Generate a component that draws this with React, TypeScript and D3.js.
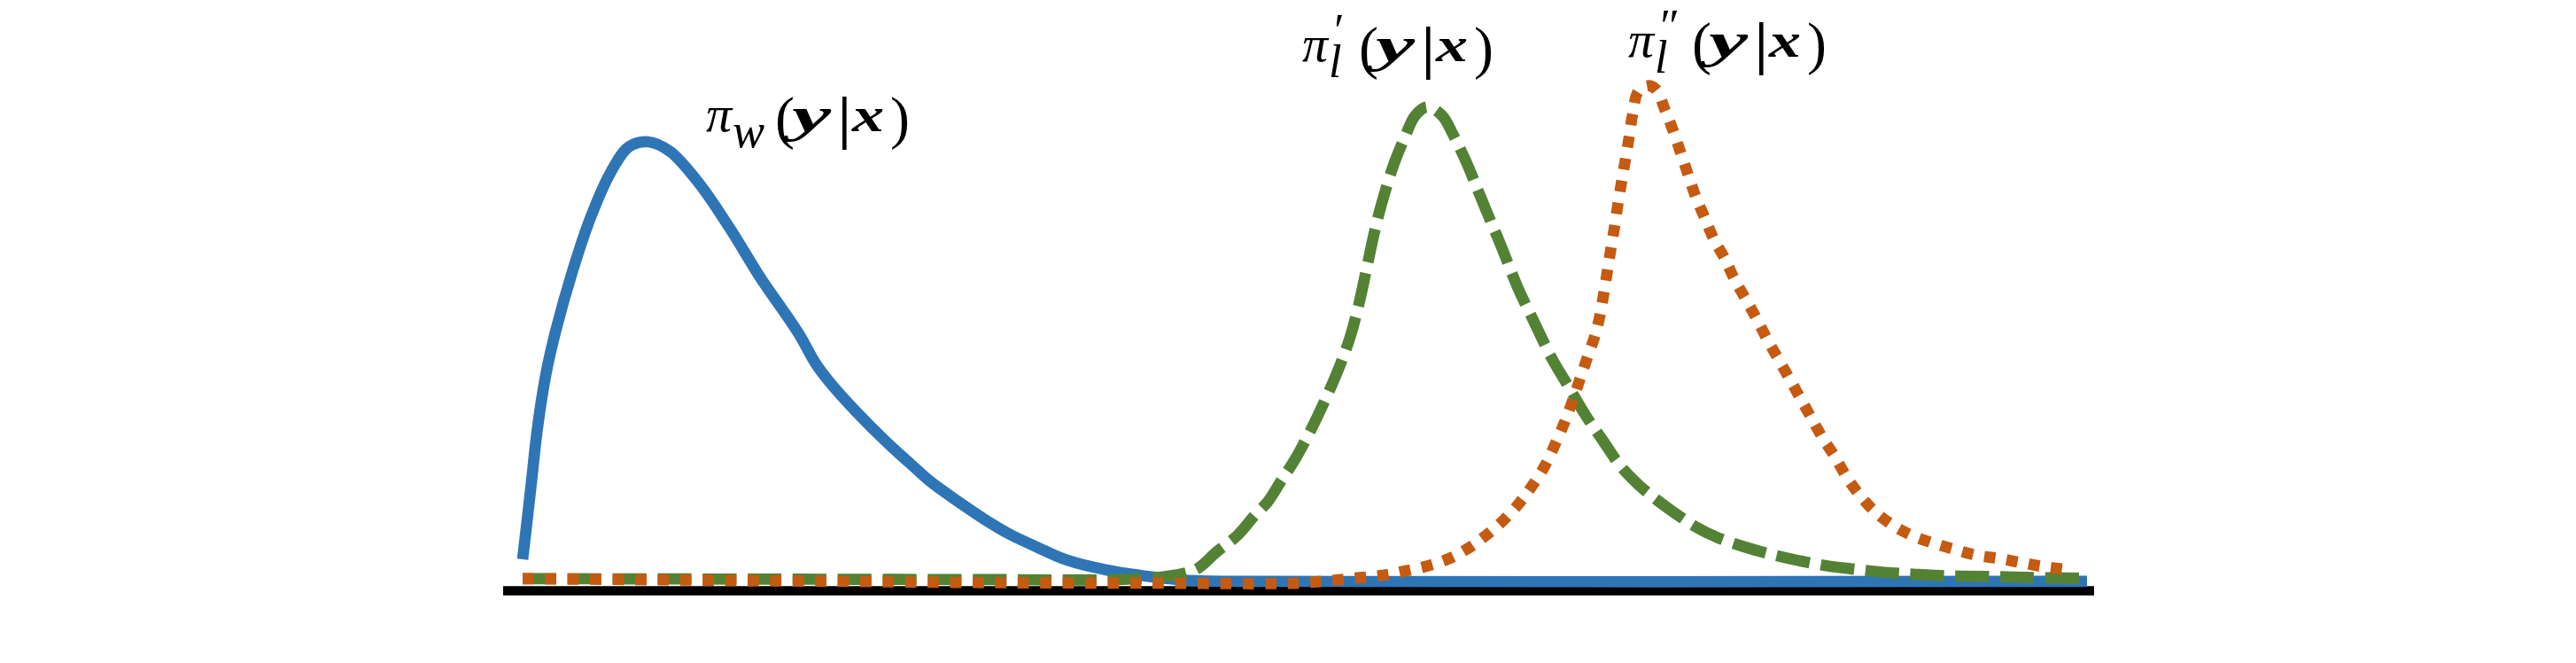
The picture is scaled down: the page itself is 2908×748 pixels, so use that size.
import React from "react";
import * as d3 from "d3";

// ---- data (x: 0..100 along the support, y: density, peak of π_w = 1) ----
const winnerX = [0, 0.57, 0.85, 1.19, 1.59, 2.08, 3.21, 4.34, 5.66, 6.8, 8.02, 9.44, 11.33, 13.21, 15.29, 16.61, 17.74, 18.69, 19.63, 21.33, 23.22, 25.08, 26.05, 27.75, 29.45, 31.14, 32.84, 34.82, 37.37, 40.2, 42.47, 45.87, 100];
const winnerY = [0.069, 0.243, 0.334, 0.421, 0.5, 0.574, 0.714, 0.831, 0.934, 0.989, 1.0, 0.978, 0.905, 0.809, 0.692, 0.626, 0.567, 0.508, 0.464, 0.398, 0.332, 0.273, 0.243, 0.2, 0.16, 0.125, 0.097, 0.067, 0.045, 0.03, 0.022, 0.02, 0.02];

const loser1X = [0, 15, 30, 38, 41.34, 43.06, 44.37, 45.68, 46.77, 47.64, 48.52, 49.39, 50.49, 51.36, 52.24, 52.89, 53.44, 53.99, 54.53, 55.08, 55.74, 56.39, 57.04, 57.81, 58.79, 59.45, 60.32, 60.98, 61.64, 62.51, 63.6, 64.69, 65.79, 66.88, 67.97, 69.07, 70.16, 71.25, 72.19, 73.58, 74.97, 76.36, 77.99, 79.62, 81.47, 83.33, 85.19, 87.04, 88.9, 91.22, 93.54, 95.87, 99.66];
const loser1Y = [0.026, 0.025, 0.024, 0.024, 0.032, 0.047, 0.086, 0.122, 0.166, 0.198, 0.246, 0.293, 0.365, 0.429, 0.501, 0.564, 0.636, 0.724, 0.811, 0.883, 0.955, 1.01, 1.058, 1.078, 1.058, 1.018, 0.955, 0.899, 0.843, 0.771, 0.676, 0.596, 0.517, 0.453, 0.389, 0.333, 0.278, 0.238, 0.21, 0.174, 0.142, 0.118, 0.098, 0.082, 0.067, 0.055, 0.047, 0.04, 0.036, 0.032, 0.031, 0.029, 0.027];

const loser2X = [0, 10, 20, 30, 40, 49.62, 51.36, 53.11, 54.86, 56.39, 57.92, 59.23, 60.32, 61.42, 62.51, 63.6, 64.47, 65.35, 66.04, 66.63, 67.1, 67.57, 68.04, 68.51, 68.86, 69.12, 69.36, 69.57, 69.8, 70.02, 70.25, 70.5, 70.74, 70.95, 71.31, 71.91, 72.44, 73.05, 73.56, 74.03, 74.5, 74.97, 75.56, 76.14, 76.84, 77.43, 78.14, 78.84, 79.55, 80.25, 80.96, 81.67, 82.37, 83.08, 83.9, 84.61, 85.43, 86.36, 87.54, 88.83, 90.12, 91.53, 92.94, 94.35, 95.76, 97.17, 98.58];
const loser2Y = [0.026, 0.023, 0.02, 0.017, 0.016, 0.016, 0.021, 0.027, 0.033, 0.043, 0.055, 0.071, 0.091, 0.118, 0.15, 0.19, 0.23, 0.278, 0.329, 0.377, 0.421, 0.469, 0.517, 0.564, 0.612, 0.664, 0.716, 0.763, 0.811, 0.863, 0.911, 0.962, 1.013, 1.061, 1.112, 1.125, 1.117, 1.069, 1.023, 0.975, 0.927, 0.879, 0.831, 0.783, 0.74, 0.696, 0.652, 0.608, 0.56, 0.517, 0.473, 0.429, 0.385, 0.341, 0.297, 0.254, 0.214, 0.178, 0.146, 0.122, 0.106, 0.091, 0.078, 0.071, 0.062, 0.053, 0.047];

const axisExtent = [-1.25, 100.45];

const labelBases = ["π", "π", "π"];
const labelSups = ["", "′", "″"];
const labelSubs = ["w", "l", "l"];
const labelArgs = ["y", "x"];

const W = 2908;
const H = 748;

const zip = (xs: number[], ys: number[]) => xs.map((x, i) => [x, ys[i]] as [number, number]);

const FONT = "'Liberation Serif', 'DejaVu Serif', serif";

function Label({ x0, B, idx, pOff }: { x0: number; B: number; idx: number; pOff: number }) {
  const sup = labelSups[idx];
  const sub = labelSubs[idx];
  const sx = x0 + 30;
  const p = x0 + pOff;
  const big = 66;
  return (
    <text fill="#000" fontFamily={FONT} fontSize={54}>
      <tspan x={x0} y={B} fontSize={58} fontStyle="italic">{labelBases[idx]}</tspan>
      {sup ? (
        <tspan x={sx + 3} y={B - 17} fontSize={52} fontStyle="italic">{sup}</tspan>
      ) : null}
      <tspan x={sx} y={B + 18} fontSize={sub === "w" ? 54 : 52} fontStyle="italic">{sub}</tspan>
      <tspan x={p} y={B + 7} fontSize={big}>(</tspan>
      <tspan x={p + 19} y={B} fontStyle="italic" fontWeight="bold" textLength={44} lengthAdjust="spacingAndGlyphs">{labelArgs[0]}</tspan>
      <tspan x={p + 71} y={B + 7} fontSize={big} fontWeight="bold">|</tspan>
      <tspan x={p + 87} y={B} fontStyle="italic" fontWeight="bold" textLength={36} lengthAdjust="spacingAndGlyphs">{labelArgs[1]}</tspan>
      <tspan x={p + 130} y={B + 7} fontSize={big}>)</tspan>
    </text>
  );
}

export default function App() {
  const x = d3.scaleLinear().domain([0, 100]).range([590, 2356]);
  const y = d3.scaleLinear().domain([0, 1]).range([666, 160]);
  const line = d3
    .line<[number, number]>()
    .x((d) => x(d[0]))
    .y((d) => y(d[1]))
    .curve(d3.curveCatmullRom.alpha(0.5));

  const sw = 12.7;
  return (
    <svg
      width={W}
      height={H}
      viewBox={`0 0 ${W} ${H}`}
      style={{ position: "absolute", left: 0, top: 0, background: "#fff" }}
    >
      <rect x={0} y={0} width={W} height={H} fill="#fff" />
      <line
        x1={x(axisExtent[0])}
        x2={x(axisExtent[1])}
        y1={y(0) + 0.5}
        y2={y(0) + 0.5}
        stroke="#000"
        strokeWidth={10.6}
      />
      <path d={line(zip(winnerX, winnerY)) || ""} fill="none" stroke="#2E75B6" strokeWidth={sw} strokeLinejoin="round" />
      <path d={line(zip(loser1X, loser1Y)) || ""} fill="none" stroke="#548235" strokeWidth={sw} strokeDasharray={`${sw * 3} ${sw}`} />
      <path d={line(zip(loser2X, loser2Y)) || ""} fill="none" stroke="#C55A11" strokeWidth={sw} strokeDasharray={`${sw} ${sw}`} />
      <Label x0={797} B={148} idx={0} pOff={78} />
      <Label x0={1470} B={69} idx={1} pOff={64} />
      <Label x0={1838} B={64} idx={2} pOff={72} />
    </svg>
  );
}
